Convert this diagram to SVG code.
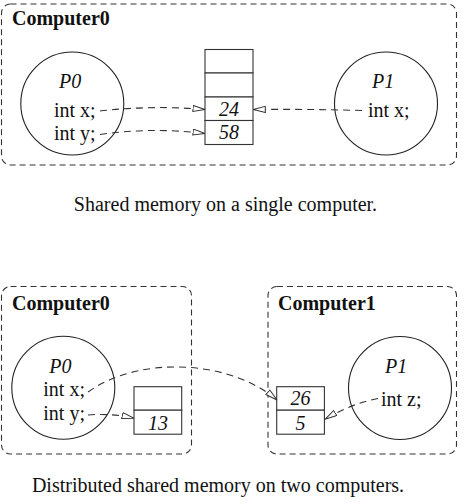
<svg xmlns="http://www.w3.org/2000/svg" width="474" height="504" viewBox="0 0 474 504">
<style>
text{font-family:"Liberation Serif","Times New Roman",serif;font-size:20px;fill:#111}
.b{font-weight:bold}
.i{font-style:italic}
.m{text-anchor:middle}
.box{fill:none;stroke:#333;stroke-width:1.1;stroke-dasharray:6 4}
.c{fill:none;stroke:#222;stroke-width:1.1}
.cell{fill:#fff;stroke:#333;stroke-width:1.1}
.arr{fill:none;stroke:#333;stroke-width:1.1;stroke-dasharray:7 5;marker-end:url(#ah)}
</style>
<defs>
<marker id="ah" markerWidth="14" markerHeight="9" refX="12.5" refY="3.5" orient="auto" markerUnits="userSpaceOnUse">
<path d="M0.5,0.5 L12.5,3.5 L0.5,6.5 z" fill="#fff" stroke="#333" stroke-width="1" stroke-dasharray="none"/>
</marker>
</defs>
<rect fill="#fff" width="474" height="504"/>

<g id="computer0-top">
<rect class="box" x="1.5" y="4" width="455" height="161" rx="9"/>
<text class="b" x="12" y="25">Computer0</text>
</g>
<g id="p0-top">
<circle class="c" cx="72.3" cy="103.5" r="51.5"/>
<text class="i" x="59" y="88">P0</text>
<text x="54" y="117">int x;</text>
<text x="54" y="139.5">int y;</text>
</g>
<g id="mem-top">
<rect class="cell" x="205" y="49.5" width="48" height="23.5"/>
<rect class="cell" x="205" y="73" width="48" height="24"/>
<rect class="cell" x="205" y="97" width="48" height="23.5"/>
<rect class="cell" x="205" y="120.5" width="48" height="24"/>
<text class="i m" x="229" y="116">24</text>
<text class="i m" x="229" y="139">58</text>
</g>
<g id="p1-top">
<circle class="c" cx="386" cy="103.5" r="51.5"/>
<text class="i" x="372" y="88">P1</text>
<text x="368" y="117">int x;</text>
</g>
<g id="caption-top">
<text class="m" x="225.5" y="211">Shared memory on a single computer.</text>
</g>

<g id="computer0-bottom">
<rect class="box" x="1.5" y="286.5" width="190" height="167.5" rx="9"/>
<text class="b" x="12" y="310">Computer0</text>
</g>
<g id="computer1-bottom">
<rect class="box" x="268" y="286.5" width="188.5" height="167.5" rx="9"/>
<text class="b" x="278" y="310">Computer1</text>
</g>
<g id="p0-bottom">
<circle class="c" cx="63.3" cy="387.7" r="51.5"/>
<text class="i" x="49.3" y="373">P0</text>
<text x="43.3" y="396">int x;</text>
<text x="43.3" y="420">int y;</text>
</g>
<g id="mem-bottom-left">
<rect class="cell" x="134" y="386.7" width="47.7" height="23.5"/>
<rect class="cell" x="134" y="410.2" width="47.7" height="24"/>
<text class="i m" x="158" y="430">13</text>
</g>
<g id="mem-bottom-right">
<rect class="cell" x="276.7" y="386.7" width="47.7" height="23.5"/>
<rect class="cell" x="276.7" y="410.2" width="47.7" height="24"/>
<text class="i m" x="300.5" y="405">26</text>
<text class="i m" x="300.5" y="429.5">5</text>
</g>
<g id="p1-bottom">
<circle class="c" cx="400" cy="388" r="51.5"/>
<text class="i" x="385" y="373">P1</text>
<text x="381" y="406">int z;</text>
</g>
<g id="caption-bottom">
<text class="m" x="218" y="492">Distributed shared memory on two computers.</text>
</g>

<g id="connectors">
<path class="arr" d="M100,111 Q152,105 205,109.5"/>
<path class="arr" d="M100,134.5 Q152,127 205,133.5"/>
<path class="arr" d="M362,110.5 Q308,109 253.3,109.5"/>
<path class="arr" d="M88,392 C140,355 230,360 277,400"/>
<path class="arr" d="M88,415 Q112,413 134,418.3"/>
<path class="arr" d="M378,398.5 Q350,404 325,419.3"/>
</g>
</svg>
